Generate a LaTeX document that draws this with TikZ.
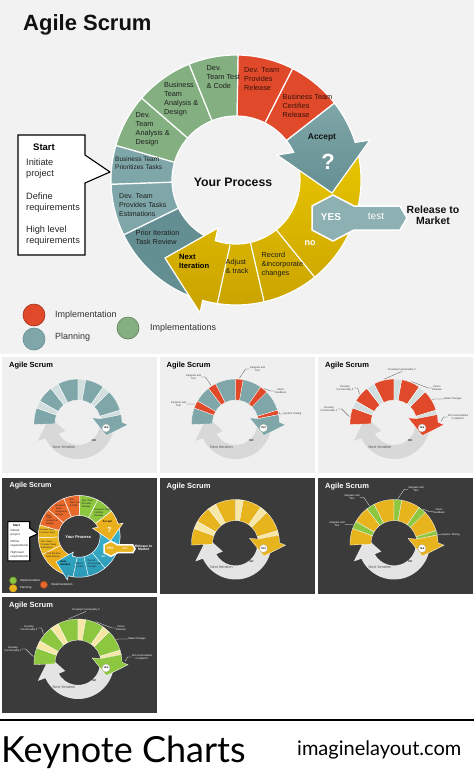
\documentclass[tikz,border=0pt]{standalone}
\usepackage{fontspec}
\setmainfont{Liberation Sans}
\newfontfamily\footfont{Lato}

% main chart colours
\definecolor{scBg}{HTML}{F2F2F2}
\definecolor{scInk}{HTML}{111111}
\definecolor{scArrowInk}{HTML}{111111}
\definecolor{scSegInk}{HTML}{1E1E1E}
\definecolor{scRedInk}{HTML}{3A1208}
\definecolor{scLegendInk}{HTML}{333333}
\definecolor{scGreen}{HTML}{84B081}
\definecolor{scRed}{HTML}{E04A2B}
\definecolor{scTeal}{HTML}{7FA6A8}
\definecolor{scTealDark}{HTML}{648F92}
\definecolor{scYellow}{HTML}{EBC800}
\definecolor{scYellowDark}{HTML}{C9A200}
\definecolor{scYes}{HTML}{8DB0B2}
% thumbnail colours
\definecolor{thLight}{HTML}{EFEFEF}
\definecolor{thDark}{HTML}{3B3B3B}
\definecolor{thTeal}{HTML}{7FA6A8}
\definecolor{thPaleTeal}{HTML}{D3DFDF}
\definecolor{thRed}{HTML}{E04A2B}
\definecolor{thGold}{HTML}{E8B41E}
\definecolor{thCream}{HTML}{F6E7A6}
\definecolor{thLime}{HTML}{8DC63F}
\definecolor{thOrange}{HTML}{E8692B}
\definecolor{thCyan}{HTML}{3DB5D1}
\definecolor{thCyanDark}{HTML}{2A98B4}
\definecolor{thLoop}{HTML}{D8D8D8}
\definecolor{thLoopDark}{HTML}{E4E4E4}

\def\sepw{1.2pt}

\tikzset{
  seg/.style={draw=white, line width=\sepw},
  sepline/.style={draw=white, line width=\sepw},
  charttitle/.style={anchor=base west, inner sep=0pt, text=scInk, font=\fontsize{22}{24}\selectfont\bfseries},
  segtext/.style={anchor=north west, inner sep=0pt, align=left, text=scSegInk, font=\fontsize{7.3}{9}\selectfont},
  boxhead/.style={inner sep=0pt, font=\fontsize{9.5}{11}\selectfont\bfseries},
  boxtext/.style={anchor=north west, inner sep=0pt, align=left, text=black!85, font=\fontsize{9.2}{11.5}\selectfont},
  keytext/.style={inner sep=0pt, font=\fontsize{12.3}{14}\selectfont\bfseries, text=scInk},
  armtext/.style={inner sep=0pt, align=center, font=\fontsize{10.5}{11.5}\selectfont\bfseries, text=scInk},
  whitetext/.style={inner sep=0pt, text=white, font=\fontsize{10}{12}\selectfont\bfseries},
  legendtext/.style={anchor=west, inner sep=0pt, text=scLegendInk, font=\fontsize{9}{11}\selectfont},
  keydot/.style={circle, minimum size=22pt, inner sep=0pt, line width=0.6pt},
  thseg/.style={draw=white, line width=0.3pt},
  thtitle/.style={anchor=base west, inner sep=0pt, font=\fontsize{7.5}{9}\selectfont\bfseries},
  thsmall/.style={inner sep=0pt, text=black!65, font=\fontsize{3.8}{4.5}\selectfont},
  thno/.style={inner sep=0pt, text=black!80, font=\fontsize{2.8}{3}\selectfont\bfseries},
  thyes/.style={circle, fill=white, draw=black!40, line width=0.2pt, minimum size=8pt, inner sep=0pt, font=\fontsize{2.4}{3}\selectfont\bfseries},
  thnote/.style={inner sep=0pt, align=center, font=\fontsize{2.6}{3}\selectfont},
  thlead/.style={line width=0.25pt},
}

% ring pieces
\newcommand{\mainseg}[3]{%
  \path[#1] (#2:64) arc[start angle=#2, end angle=#3, radius=64] -- (#3:125) arc[start angle=#3, end angle=#2, radius=125] -- cycle;}
\newcommand{\thumbseg}[3]{%
  \path[thseg, fill=#1] (#2:23) arc[start angle=#2, end angle=#3, radius=23] -- (#3:44) arc[start angle=#3, end angle=#2, radius=44] -- cycle;}

% the big chart, top left corner at (0,0)
\newcommand{\agilechart}{%
  \fill[scBg] (0,0) rectangle (474,-354);
  \node[charttitle] (title) at (23,-30) {Agile Scrum};
  % start callout
  \filldraw[fill=white, draw=black, line width=1.1pt] (18,-135) -- (85,-135) -- (85,-155) -- (110,-172) -- (85,-183) -- (85,-255) -- (18,-255) -- cycle;
  \node[boxhead] (start) at (44,-147) {Start};
  \node[boxtext] (initiate) at (26,-158.5) {Initiate\\project};
  \node[boxtext] (define) at (26,-192.5) {Define\\requirements};
  \node[boxtext] (highlevel) at (26,-225.5) {High level\\requirements};
  % ring
  \begin{scope}[shift={(236,-180)}]
    \mainseg{seg, fill=scTealDark}{206}{256}
    \path[seg, top color=scYellow, bottom color=scYellowDark] (20:125) arc[start angle=20, end angle=-105.45, radius=125] -- (-36,-133) -- (-71,-78) -- (-18,-48) -- (-108.9:64) arc[start angle=-108.9, end angle=20, radius=64] -- cycle;
    \draw[sepline] (-51:64) -- (-51:125) (-77:64) -- (-77:125) (-6,-65) -- (-19,-125);
    \foreach \a/\b/\c in {164/139/scGreen, 139/112/scGreen, 112/89/scGreen, 89/63/scRed, 63/38/scRed, 182/164/scTeal, 206/182/scTeal}
      {\mainseg{seg, fill=\c}{\a}{\b}}
    \path[seg, top color=scTeal, bottom color=scTealDark] (38:125) arc[start angle=38, end angle=17.5, radius=125] -- (134,40) -- (96,-13) -- (41,25) -- (25.6:64) arc[start angle=25.6, end angle=38, radius=64] -- cycle;
  \end{scope}
  \filldraw[fill=scYes, draw=white, line width=1.5pt] (312,-206) -- (333,-195) -- (354,-206) -- (400,-206) -- (407,-218) -- (400,-230) -- (354,-230) -- (333,-241) -- (312,-230) -- cycle;
  % segment labels
  \node[segtext] (devanalysis) at (135.5,-112.5) {Dev.\\Team\\Analysis \&\\Design};
  \node[segtext] (busanalysis) at (164,-82.5) {Business\\Team\\Analysis \&\\Design};
  \node[segtext] (testcode) at (206.5,-65.5) {Dev.\\Team Test\\\& Code};
  \node[segtext, text=scRedInk] (provides) at (244,-67.5) {Dev. Team\\Provides\\Release};
  \node[segtext, text=scRedInk] (certifies) at (282.5,-94.5) {Business Team\\Certifies\\Release};
  \node[segtext, font=\fontsize{6.5}{8}\selectfont] (prioritizes) at (115,-157) {Business Team\\Prioritizes Tasks};
  \node[segtext, font=\fontsize{7}{9}\selectfont] (estimations) at (119,-193.5) {Dev. Team\\Provides Tasks\\Estimations};
  \node[segtext] (review) at (135.5,-230.5) {Prior Iteration\\Task Review};
  \node[segtext, text=black, font=\fontsize{7.6}{9}\selectfont\bfseries] (nextiter) at (179,-254.5) {Next\\Iteration};
  \node[segtext] (adjust) at (225.5,-259.5) {Adjust\\\& track};
  \node[segtext] (record) at (261.5,-252.5) {Record\\\&incorporate\\changes};
  % centre and arrow labels
  \node[keytext] (process) at (233,-182) {Your Process};
  \node[inner sep=0pt, text=scArrowInk, font=\fontsize{8.4}{10}\selectfont\bfseries] (accept) at (322,-137) {Accept};
  \node[inner sep=0pt, text=white, font=\fontsize{22}{24}\selectfont\bfseries] (query) at (328,-162) {?};
  \node[whitetext] (yes) at (331,-217) {YES};
  \node[inner sep=0pt, text=white, font=\fontsize{10}{12}\selectfont] (test) at (376,-216) {test};
  \node[armtext] (release) at (433,-215) {Release to\\Market};
  \node[whitetext, font=\fontsize{9}{11}\selectfont\bfseries] (no) at (310,-243) {no};
  % legend
  \node[keydot, fill=scRed, draw=scRed!70!black] (keyred) at (34,-315) {};
  \node[legendtext] (keyredtext) at (55,-315) {Implementation};
  \node[keydot, fill=scTeal, draw=scTealDark] (keyteal) at (34,-339) {};
  \node[legendtext] (keytealtext) at (55,-337) {Planning};
  \node[keydot, fill=scGreen, draw=scGreen!70!black] (keygreen) at (128,-328) {};
  \node[legendtext] (keygreentext) at (150,-328) {Implementations};
}

% small variant, top left corner at (0,0)
% #1 panel, #2 wide pieces, #3 narrow pieces, #4 loop arrow, #5 title, #6 notes
\newcommand{\scrumthumb}[6]{%
  \fill[#1] (0,0) rectangle (155,-116);
  \node[thtitle, text=#5] (thtitle) at (7,-10.7) {Agile Scrum};
  \begin{scope}[shift={(76,-66)}]
    \fill[#4] (-8:36) arc[start angle=-8, end angle=-155, radius=36] -- (-156:44) -- (168:29) -- (-148:15) -- (-151:22) arc[start angle=-151, end angle=-8, radius=22] -- cycle;
    \foreach \a/\b in {182/160, 150/128, 117/90, 80/55, 45/17}
      {\thumbseg{#2}{\a}{\b}}
    \foreach \a/\b in {160/150, 128/117, 90/80, 55/45, 17/11}
      {\thumbseg{#3}{\a}{\b}}
    \path[thseg, fill=#2] (11:44) arc[start angle=11, end angle=1, radius=44] -- (-2:50) -- (-24:31) -- (20:15) -- (11:23) -- cycle;
    \node[thsmall] (thnext) at (-14,-24) {Next Iteration};
    \node[thno] (thno) at (16,-18) {NO};
    \node[thyes] (thyes) at (28,-5) {YES};
    #6
  \end{scope}
}

\newcommand{\testnotes}[1]{%
  \node[thnote, text=#1] (noteone) at (-57,19) {Integrate and\\Test};
  \node[thnote, text=#1] (notetwo) at (-42,46) {Integrate and\\Test};
  \node[thnote, text=#1] (notethree) at (22,54) {Integrate and\\Test};
  \node[thnote, text=#1] (notefour) at (45,32) {Client\\Feedback};
  \node[thnote, text=#1] (notefive) at (57,9) {System Testing};
  \draw[thlead, draw=#1] (noteone.east) -- ++(5,0) -- (155:45);
  \draw[thlead, draw=#1] (notetwo.east) -- ++(4,0) -- (123:45);
  \draw[thlead, draw=#1] (notethree.west) -- ++(-4,0) -- (85:45);
  \draw[thlead, draw=#1] (notefour.west) -- ++(-4,0) -- (50:45);
  \draw[thlead, draw=#1] (notefive.west) -- ++(-4,0) -- (14:45);
}

\newcommand{\devnotes}[1]{%
  \node[thnote, text=#1] (noteone) at (-65,14) {Develop\\Functionality 1};
  \node[thnote, text=#1] (notetwo) at (-49,35) {Develop\\Functionality 2};
  \node[thnote, text=#1] (notethree) at (8,53) {Develop Functionality 3};
  \node[thnote, text=#1] (notefour) at (43,35) {Demo\\Release};
  \node[thnote, text=#1] (notefive) at (59,24) {Make Changes};
  \node[thnote, text=#1] (notesix) at (64,6) {All Functionalities\\Complete?};
  \draw[thlead, draw=#1] (noteone.east) -- ++(4,0) -- (172:45);
  \draw[thlead, draw=#1] (notetwo.east) -- ++(4,0) -- (140:45);
  \draw[thlead, draw=#1] (notethree.south) -- (103:45);
  \draw[thlead, draw=#1] (notefour.west) -- ++(-4,0) -- (67:45);
  \draw[thlead, draw=#1] (notefive.west) -- ++(-4,0) -- (32:45);
  \draw[thlead, draw=#1] (notesix.west) -- ++(-4,0) -- (2:47);
}

\begin{document}
\begin{tikzpicture}[x=1pt, y=1pt]
  \useasboundingbox (0,0) rectangle (474,-780);
  \fill[white] (0,0) rectangle (474,-780);

  % big chart
  \agilechart

  % thumbnails, first row
  \begin{scope}[shift={(2,-357)}]
    \scrumthumb{thLight}{thTeal}{thPaleTeal}{thLoop}{black}{}
  \end{scope}
  \begin{scope}[shift={(159.5,-357)}]
    \scrumthumb{thLight}{thTeal}{thRed}{thLoop}{black}{\testnotes{black!75}}
  \end{scope}
  \begin{scope}[shift={(318,-357)}]
    \scrumthumb{thLight}{thRed}{thPaleTeal}{thLoop}{black}{\devnotes{black!75}}
  \end{scope}

  % second row
  \begin{scope}[shift={(2,-477.5)}, scale=0.327, transform shape]
    \def\sepw{0.5pt}
    \colorlet{scBg}{thDark}
    \colorlet{scInk}{white}
    \colorlet{scLegendInk}{white}
    \colorlet{scGreen}{thOrange}
    \colorlet{scRed}{thLime}
    \colorlet{scRedInk}{scSegInk}
    \colorlet{scTeal}{thGold}
    \colorlet{scTealDark}{thGold!85!orange}
    \colorlet{scYellow}{thCyan}
    \colorlet{scYellowDark}{thCyanDark}
    \colorlet{scYes}{thGold}
    \agilechart
  \end{scope}
  \begin{scope}[shift={(159.5,-477.5)}]
    \scrumthumb{thDark}{thGold}{thCream}{thLoopDark}{white}{}
  \end{scope}
  \begin{scope}[shift={(318,-477.5)}]
    \scrumthumb{thDark}{thGold}{thLime}{thLoopDark}{white}{\testnotes{white}}
  \end{scope}

  % third row
  \begin{scope}[shift={(2,-597)}]
    \scrumthumb{thDark}{thLime}{thCream}{thLoopDark}{white}{\devnotes{white}}
  \end{scope}

  % footer
  \draw[line width=2pt] (0,-720) -- (474,-720);
  \node[anchor=base west, inner sep=0pt, font=\footfont\fontsize{36}{40}\selectfont] (brand) at (1,-762) {Keynote Charts};
  \node[anchor=base west, inner sep=0pt, font=\footfont\fontsize{20}{24}\selectfont] (site) at (297,-755) {imaginelayout.com};
\end{tikzpicture}
\end{document}
